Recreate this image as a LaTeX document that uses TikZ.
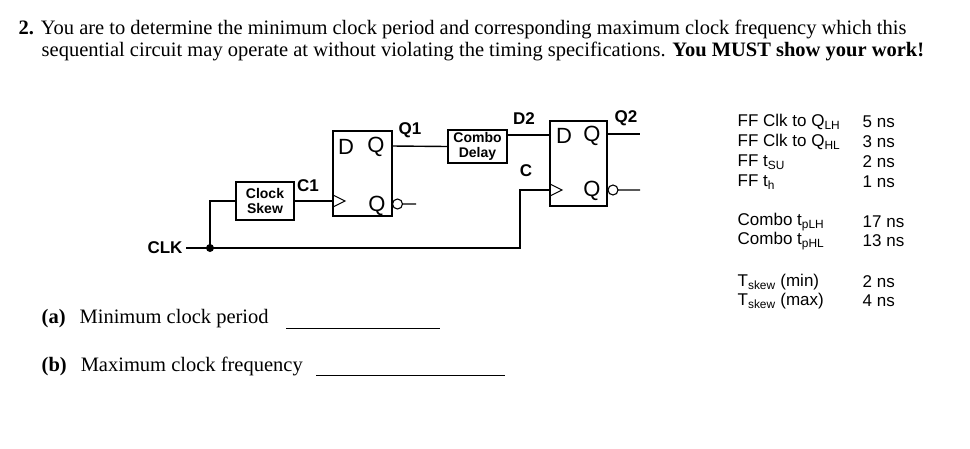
\documentclass[tikz,border=0pt]{standalone}
\usepackage{fontspec}
\setmainfont{Liberation Serif}
\newfontfamily\arial{Liberation Sans}
\begin{document}
\begin{tikzpicture}[x=1pt,y=-1pt,line width=1.4pt,
  box/.style={draw,line width=1.4pt,inner sep=0pt},
  lab/.style={font=\arial\bfseries\fontsize{17}{17}\selectfont,inner sep=0pt},
  sm/.style={font=\arial\bfseries\fontsize{14}{15}\selectfont,align=center,inner sep=0pt},
  big/.style={font=\arial\fontsize{22}{22}\selectfont,inner sep=0pt},
  tb/.style={font=\arial\fontsize{17}{17}\selectfont,anchor=west,inner sep=0pt},
  tx/.style={font=\fontsize{20.5}{24}\selectfont,anchor=west,inner sep=0pt}]
\useasboundingbox (0,0) rectangle (970,448);
% title
\node[tx] (t1) at (18,29) {\textbf{2.} You are to determine the minimum clock period and corresponding maximum clock frequency which this};
\node[tx] (t2) at (41,51) {sequential circuit may operate at without violating the timing specifications. \textbf{You MUST show your work!}};
% boxes
\draw[box] (333,131) rectangle (392,216);
\draw[box] (550,121) rectangle (607,206);
\node[box,minimum width=58pt,minimum height=38pt] (sk) at (265,201) {};
\node[sm] (skt) at (265,201) {Clock\\Skew};
\node[box,minimum width=59pt,minimum height=33pt] (cb) at (477.5,146.5) {};
\node[sm] (cbt) at (477.5,146.5) {Combo\\Delay};
\node[big] (d1) at (346,147) {D};
\node[big] (q1) at (376,147) {Q};
\node[big] (q1n) at (377,206) {Q};
\node[big] (d2) at (564,136) {D};
\node[big] (q2) at (592,136) {Q};
\node[big] (q2n) at (592,191) {Q};
% clock triangles
\draw[line width=1pt] (333,195)--(345,201)--(333,207);
\draw[line width=1pt] (550,184)--(562,190)--(550,196);
% bubbles
\draw[line width=1.1pt] (397.5,204) circle (5) (402.5,204)--(416,204);
\draw[line width=1.1pt] (613,190) circle (5) (618,190)--(640,190);
% wires
\node[lab] (clk) at (165,248) {CLK};
\coordinate (dot) at (210,248);
\fill (dot) circle (4);
\draw (clk.east)++(3,0) -- (dot) -- (520,248) -- (520,190) -- (550,190);
\draw (dot) -- (210,201) -- (sk.west);
\draw (sk.east) -- (333,201);
\draw (392,146) -- (cb.west);
\draw (cb.east|-0,135) -- (550,135);
\draw (607,134) -- (640,134);
\node[lab] (lq1) at (410,130) {Q1};
\node[lab] (ld2) at (524,119) {D2};
\node[lab] (lq2) at (626,118) {Q2};
\node[lab] (lc) at (526,171) {C};
\node[lab] (lc1) at (308,186) {C1};
% table
\node[tb] (a1) at (737,122) {FF Clk to Q\textsubscript{LH}};
\node[tb] (a2) at (737,142) {FF Clk to Q\textsubscript{HL}};
\node[tb] (a3) at (737,162) {FF t\textsubscript{SU}};
\node[tb] (a4) at (737,182) {FF t\textsubscript{h}};
\node[tb] (b1) at (862,122) {5 ns};
\node[tb] (b2) at (862,142) {3 ns};
\node[tb] (b3) at (862,162) {2 ns};
\node[tb] (b4) at (862,182) {1 ns};
\node[tb] (a5) at (737,222) {Combo t\textsubscript{pLH}};
\node[tb] (a6) at (737,241) {Combo t\textsubscript{pHL}};
\node[tb] (b5) at (862,222) {17 ns};
\node[tb] (b6) at (862,241) {13 ns};
\node[tb] (a7) at (737,282) {T\textsubscript{skew} (min)};
\node[tb] (a8) at (737,301) {T\textsubscript{skew} (max)};
\node[tb] (b7) at (862,282) {2 ns};
\node[tb] (b8) at (862,301) {4 ns};
% questions
\node[tx] (qa) at (41,319) {\textbf{(a)}\hspace{14pt}Minimum clock period};
\draw[line width=0.8pt] (286,328) -- (440,328);
\node[tx] (qb) at (41,366) {\textbf{(b)}\hspace{14pt}Maximum clock frequency};
\draw[line width=0.8pt] (316,375) -- (505,375);
\end{tikzpicture}
\end{document}
